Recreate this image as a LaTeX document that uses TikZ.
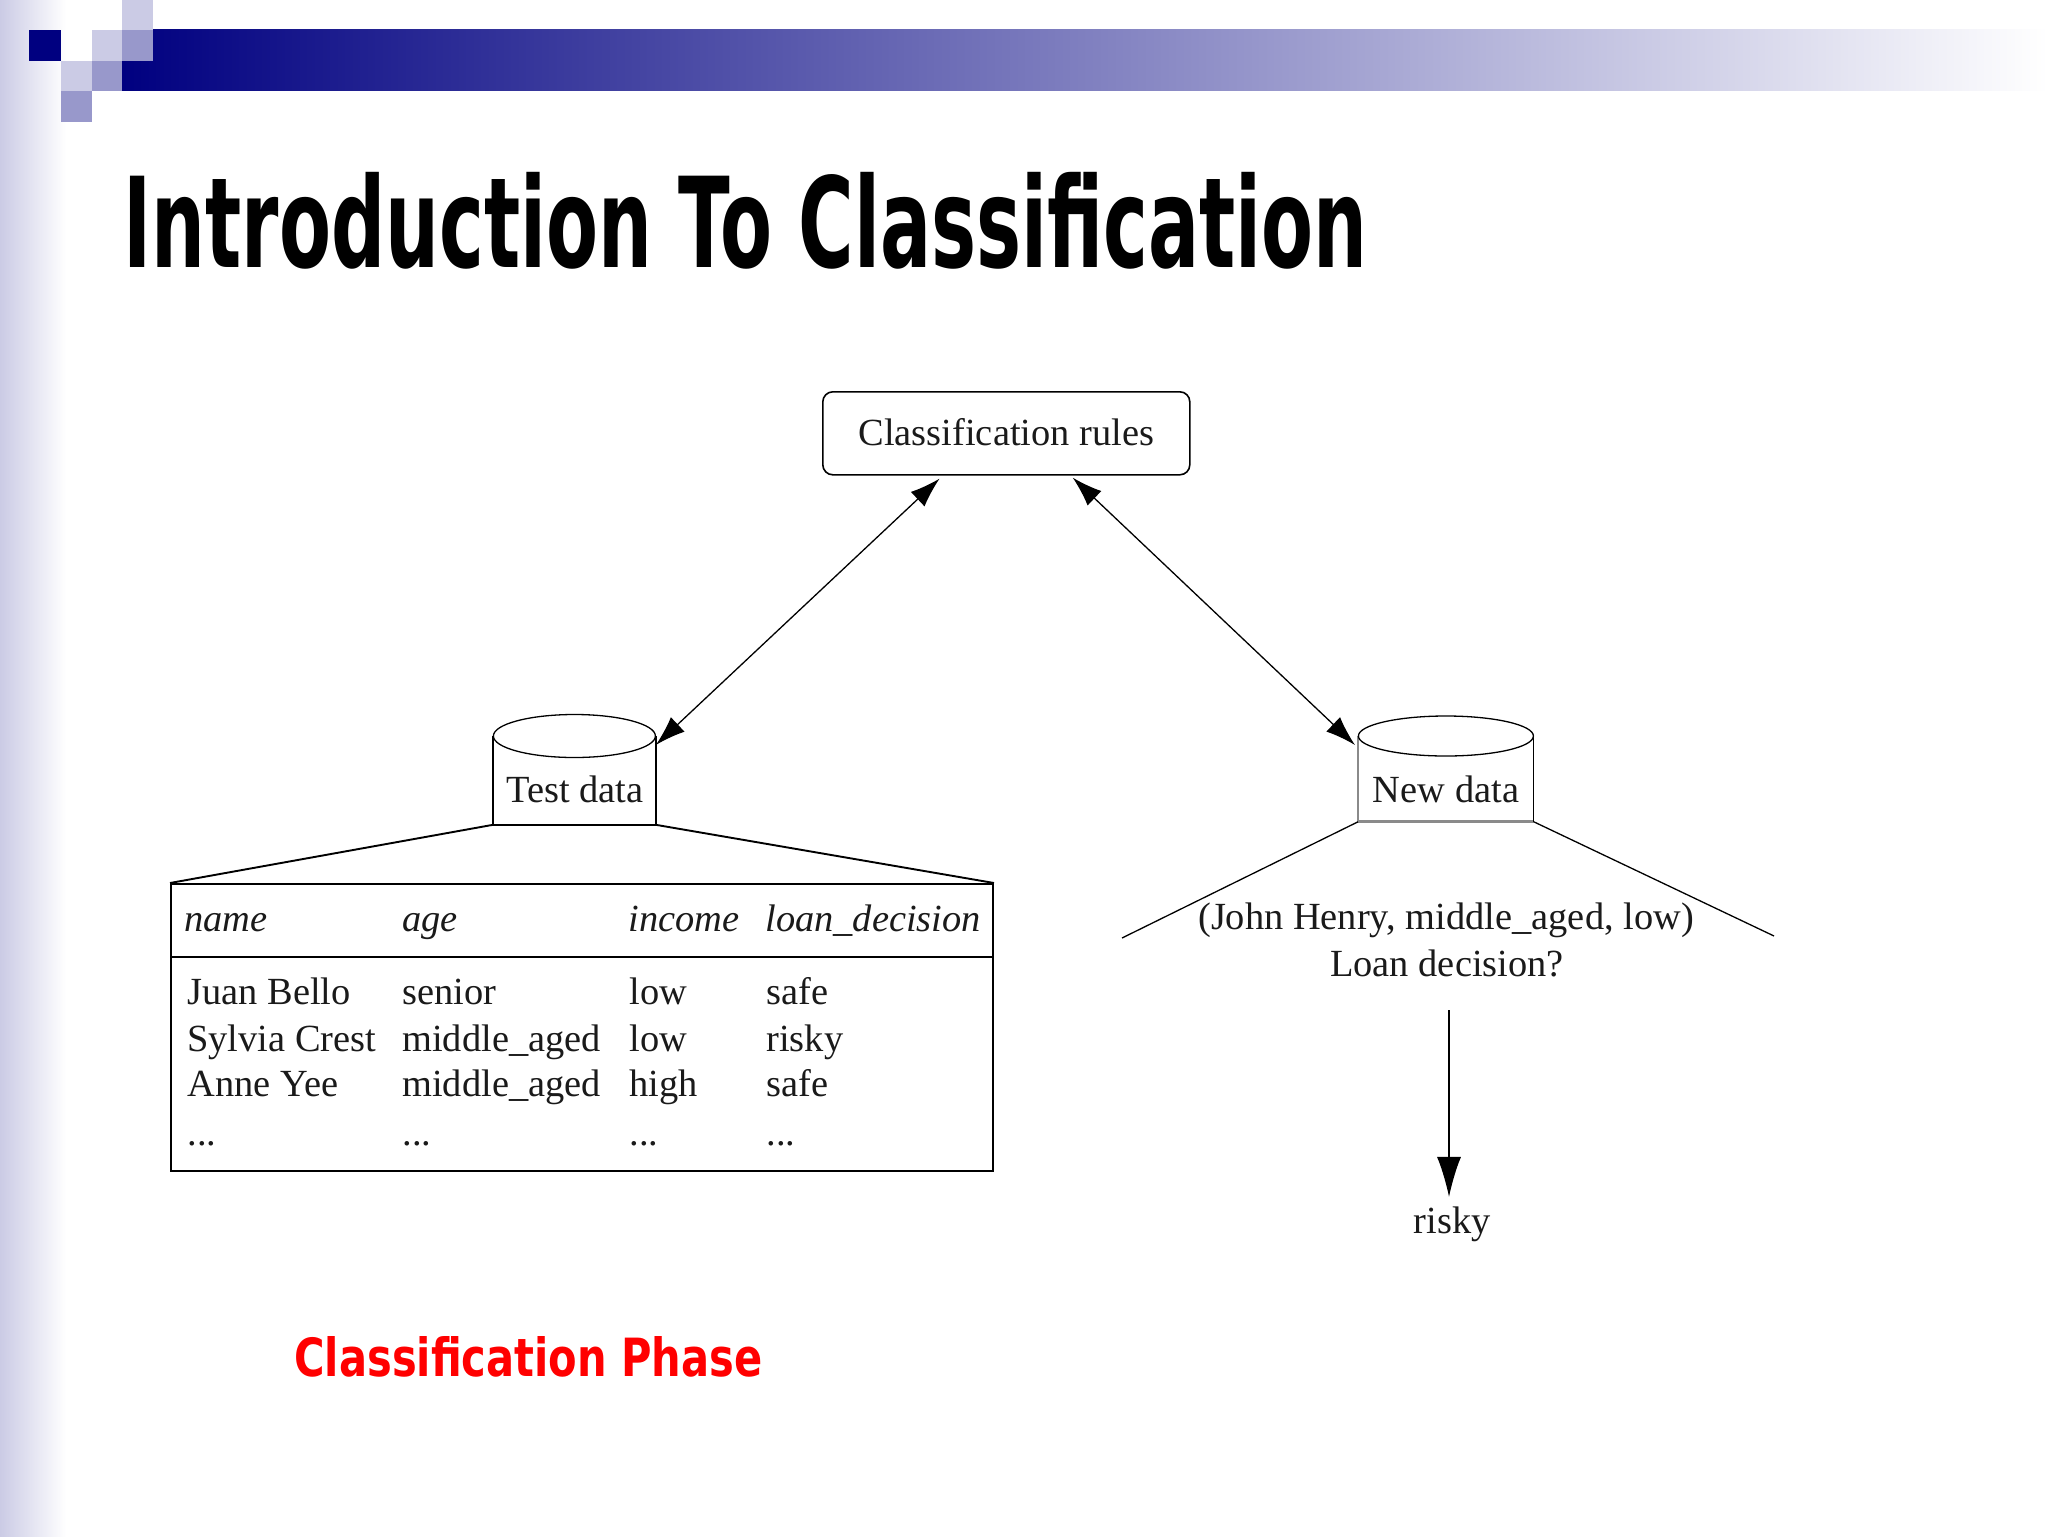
\documentclass[tikz,border=0pt]{standalone}
\usepackage{fontspec}
\usepackage{graphicx}
\setmainfont{Liberation Serif}
\newfontfamily\titlefont{DejaVu Sans}
\usetikzlibrary{arrows.meta,calc}
\definecolor{navybar}{HTML}{000080}
\definecolor{lightsq}{HTML}{CBCBE5}
\definecolor{midsq}{HTML}{9898CB}
\definecolor{inkc}{HTML}{1A1A1A}
\definecolor{greyedge}{HTML}{8A8A8A}
\tikzset{
  x=0.5pt,y=-0.5pt,
  txt/.style={font=\fontsize{19.2}{23}\selectfont,text=inkc,inner sep=0pt,anchor=base},
  cell/.style={txt,anchor=base west},
  hcell/.style={cell,font=\fontsize{19.2}{23}\selectfont\itshape},
  thin line/.style={line width=0.65pt,draw=black},
  med line/.style={line width=0.95pt,draw=black},
  cylbody/.style={inner sep=0pt,draw=none},
  headB/.style={{Latex[length=15pt,width=10pt]}-{Latex[length=15pt,width=10pt]}},
  headL/.style={-{Latex[length=20pt,width=12pt]}},
}
\begin{document}
\begin{tikzpicture}
\fill[white] (0,0) rectangle (2048,1536);
\useasboundingbox (0,0) rectangle (2048,1536);
% decoration
\shade[left color=lightsq,right color=white] (0,0) rectangle (66,1536);
\shade[left color=navybar,right color=white] (122,30) rectangle (2048,91);
\fill[navybar] (29,30) rectangle (61,61);
\fill[lightsq] (92,30) rectangle (122,61);
\fill[lightsq] (122,0) rectangle (153,30);
\fill[midsq] (122,30) rectangle (153,61);
\fill[lightsq] (61,61) rectangle (92,91);
\fill[midsq] (92,61) rectangle (122,91);
\fill[midsq] (61,91) rectangle (92,122);
% title
\node[inner sep=0pt,anchor=base west] (title) at (123,267) {\resizebox{622pt}{47.6pt}{\titlefont\bfseries Introduction To Classification}};
% rules box
\node[draw=black,line width=0.8pt,rounded corners=5pt,inner sep=0pt,minimum width=183.5pt,minimum height=41.5pt,anchor=north west,font=\fontsize{19.2}{23}\selectfont,text=inkc] (rules) at (822,391) {\raisebox{1.2pt}{Classification rules}};
% test cylinder
\node[cylbody,minimum width=81pt,minimum height=44pt,anchor=north west] (test) at (493,736) {};
\draw[med line] (test.north west) -- (test.south west) -- (test.south east) -- (test.north east);
\draw[thin line,fill=white] (test.north) ellipse (81 and 21.5);
\node[txt] (testlabel) at (575,802) {Test data};
% new cylinder
\node[cylbody,minimum width=87.5pt,minimum height=42.5pt,anchor=north west] (new) at (1358,736) {};
\draw[line width=1.4pt,draw=greyedge] (new.north west) -- (new.south west) -- (new.south east);
\draw[thin line] (new.south east) -- (new.north east);
\draw[thin line,fill=white] (new.north) ellipse (87.5 and 20);
\node[txt] (newlabel) at (1446,802) {New data};
% table
\node[draw=black,line width=1pt,inner sep=0pt,minimum width=411pt,minimum height=143.5pt,anchor=north west] (tbl) at (170,883) {};
\coordinate (hl) at ($(tbl.north west)+(0,74)$);
\coordinate (hr) at ($(tbl.north east)+(0,74)$);
\draw[line width=1pt] (hl) -- (hr);
\draw[med line] (test.south west) -- (tbl.north west);
\draw[med line] (test.south east) -- (tbl.north east);
\node[hcell] (h1) at (184,931) {name};
\node[hcell] (h2) at (402,931) {age};
\node[hcell] (h3) at (628,931) {income};
\node[hcell] (h4) at (765,931) {loan\_decision};
\node[cell] (a1) at (187,1004) {Juan Bello};
\node[cell] (a2) at (402,1004) {senior};
\node[cell] (a3) at (629,1004) {low};
\node[cell] (a4) at (766,1004) {safe};
\node[cell] (b1) at (187,1051) {Sylvia Crest};
\node[cell] (b2) at (402,1051) {middle\_aged};
\node[cell] (b3) at (629,1051) {low};
\node[cell] (b4) at (766,1051) {risky};
\node[cell] (c1) at (187,1096) {Anne Yee};
\node[cell] (c2) at (402,1096) {middle\_aged};
\node[cell] (c3) at (629,1096) {high};
\node[cell] (c4) at (766,1096) {safe};
\node[cell] (d1) at (187,1145) {...};
\node[cell] (d2) at (402,1145) {...};
\node[cell] (d3) at (629,1145) {...};
\node[cell] (d4) at (766,1145) {...};
% new data flank
\coordinate (nl) at (1122,938);
\coordinate (nr) at (1774,936);
\draw[thin line] (new.south west) -- (nl);
\draw[thin line] (new.south east) -- (nr);
\node[txt] (query) at (1446,929) {(John Henry, middle\_aged, low)};
\node[txt] (loan) at (1447,976) {Loan decision?};
\coordinate (qa) at (1449,1010);
\node[txt] (risky) at (1452,1233) {risky};
\draw[thin line,headL] (qa) -- ($(risky.north)+(-3,-9)$);
% double arrows
\draw[thin line,headB] ($(rules.south west)!0.319!(rules.south east)+(0,3)$) -- ($(test.north east)+(0,9)$);
\draw[thin line,headB] ($(rules.south west)!0.68!(rules.south east)+(0,2)$) -- ($(new.north west)+(-3,9)$);
% phase label
\node[inner sep=0pt,anchor=base west,text=red] (phase) at (294,1376) {\resizebox{234pt}{20pt}{\titlefont\bfseries Classification Phase}};
\end{tikzpicture}
\end{document}
